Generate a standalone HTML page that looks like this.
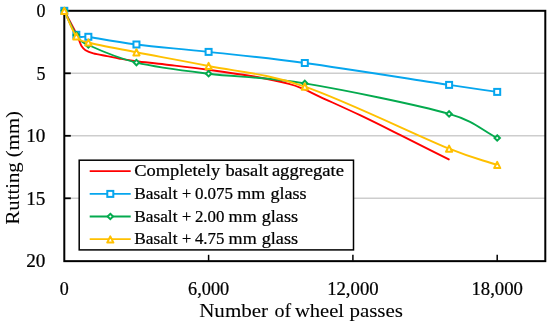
<!DOCTYPE html>
<html><head><meta charset="utf-8"><title>Rutting chart</title>
<style>
html,body{margin:0;padding:0;background:#fff;}
body{width:550px;height:324px;overflow:hidden;}
svg{display:block;}
.t,.l,.a{font-family:"Liberation Serif","DejaVu Serif",serif;fill:#000;stroke:#000;stroke-width:0.22px;}
.t{font-size:18px;}
.l{font-size:16.2px;}
.a{font-size:19.3px;stroke-width:0.08px;}
</style></head><body>
<svg width="550" height="324" viewBox="0 0 550 324">
<rect x="0" y="0" width="550" height="324" fill="#fff"/>
<line x1="64.3" x2="545.3" y1="73.30" y2="73.30" stroke="#cdcdcd" stroke-width="1.5"/>
<line x1="64.3" x2="545.3" y1="135.80" y2="135.80" stroke="#cdcdcd" stroke-width="1.5"/>
<line x1="64.3" x2="545.3" y1="198.30" y2="198.30" stroke="#cdcdcd" stroke-width="1.5"/>
<rect x="64.3" y="10.8" width="481.00" height="250.35" fill="none" stroke="#000" stroke-width="2"/>
<line x1="208.60" x2="208.60" y1="254.8" y2="260.8" stroke="#000" stroke-width="1.5"/>
<line x1="352.90" x2="352.90" y1="254.8" y2="260.8" stroke="#000" stroke-width="1.5"/>
<line x1="497.20" x2="497.20" y1="254.8" y2="260.8" stroke="#000" stroke-width="1.5"/>
<line x1="64.3" x2="70.8" y1="73.30" y2="73.30" stroke="#000" stroke-width="1.8"/>
<line x1="64.3" x2="70.8" y1="135.80" y2="135.80" stroke="#000" stroke-width="1.8"/>
<line x1="64.3" x2="70.8" y1="198.30" y2="198.30" stroke="#000" stroke-width="1.8"/>
<path d="M64.30,10.80 C68.20,18.20 73.55,28.13 76.00,33.00 C77.71,36.40 78.08,37.83 79.00,40.00 C79.92,42.17 80.42,44.30 81.50,46.00 C82.58,47.70 83.53,48.98 85.50,50.20 C87.47,51.42 89.72,52.32 93.30,53.30 C96.88,54.28 102.55,55.20 107.00,56.10 C111.45,57.00 115.17,57.85 120.00,58.70 C124.83,59.55 128.50,60.23 136.00,61.20 C143.50,62.17 153.00,63.08 165.00,64.50 C177.00,65.92 192.90,67.65 208.00,69.70 C223.10,71.75 242.12,74.45 255.60,76.80 C269.08,79.15 280.83,81.73 288.90,83.80 C296.67,85.79 298.82,87.03 304.00,89.20 C309.18,91.37 311.97,93.07 320.00,96.80 C329.33,101.13 346.67,108.85 360.00,115.20 C373.33,121.55 385.20,127.53 400.00,134.90 C414.80,142.27 432.53,151.23 448.80,159.40" fill="none" stroke="#ff0000" stroke-width="1.9" stroke-linecap="round"/>
<path d="M64.30,10.80 C68.31,18.80 72.32,30.47 76.32,34.80 C80.33,39.13 82.33,35.83 88.35,36.80 C98.37,38.42 116.41,41.98 136.45,44.50 C156.49,47.02 180.54,48.82 208.60,51.90 C236.66,54.98 264.72,57.50 304.80,63.00 C344.88,68.50 417.03,80.08 449.10,84.90 C473.13,88.51 481.17,89.57 497.20,91.90" fill="none" stroke="#06a6ee" stroke-width="1.9"/>
<rect x="61.30" y="7.80" width="6.0" height="6.0" fill="#fff" stroke="#06a6ee" stroke-width="2"/>
<rect x="73.32" y="31.80" width="6.0" height="6.0" fill="#fff" stroke="#06a6ee" stroke-width="2"/>
<rect x="85.35" y="33.80" width="6.0" height="6.0" fill="#fff" stroke="#06a6ee" stroke-width="2"/>
<rect x="133.45" y="41.50" width="6.0" height="6.0" fill="#fff" stroke="#06a6ee" stroke-width="2"/>
<rect x="205.60" y="48.90" width="6.0" height="6.0" fill="#fff" stroke="#06a6ee" stroke-width="2"/>
<rect x="301.80" y="60.00" width="6.0" height="6.0" fill="#fff" stroke="#06a6ee" stroke-width="2"/>
<rect x="446.10" y="81.90" width="6.0" height="6.0" fill="#fff" stroke="#06a6ee" stroke-width="2"/>
<rect x="494.20" y="88.90" width="6.0" height="6.0" fill="#fff" stroke="#06a6ee" stroke-width="2"/>
<path d="M64.30,10.80 C68.31,18.87 72.32,29.30 76.32,35.00 C80.33,40.70 81.24,41.74 88.35,45.00 C98.37,49.60 116.41,57.82 136.45,62.60 C156.49,67.38 180.54,70.23 208.60,73.70 C236.66,77.17 264.72,76.70 304.80,83.40 C344.88,90.10 417.03,104.80 449.10,113.90 C474.98,121.24 481.17,129.97 497.20,138.00" fill="none" stroke="#04aa4e" stroke-width="1.9"/>
<path d="M64.30,8.10 L67.00,10.80 L64.30,13.50 L61.60,10.80 Z" fill="#fff" stroke="#04aa4e" stroke-width="2"/>
<path d="M76.32,32.30 L79.02,35.00 L76.32,37.70 L73.62,35.00 Z" fill="#fff" stroke="#04aa4e" stroke-width="2"/>
<path d="M88.35,42.30 L91.05,45.00 L88.35,47.70 L85.65,45.00 Z" fill="#fff" stroke="#04aa4e" stroke-width="2"/>
<path d="M136.45,59.90 L139.15,62.60 L136.45,65.30 L133.75,62.60 Z" fill="#fff" stroke="#04aa4e" stroke-width="2"/>
<path d="M208.60,71.00 L211.30,73.70 L208.60,76.40 L205.90,73.70 Z" fill="#fff" stroke="#04aa4e" stroke-width="2"/>
<path d="M304.80,80.70 L307.50,83.40 L304.80,86.10 L302.10,83.40 Z" fill="#fff" stroke="#04aa4e" stroke-width="2"/>
<path d="M449.10,111.20 L451.80,113.90 L449.10,116.60 L446.40,113.90 Z" fill="#fff" stroke="#04aa4e" stroke-width="2"/>
<path d="M497.20,135.30 L499.90,138.00 L497.20,140.70 L494.50,138.00 Z" fill="#fff" stroke="#04aa4e" stroke-width="2"/>
<path d="M64.30,10.80 C68.31,19.30 72.32,31.02 76.32,36.30 C80.33,41.58 81.81,40.76 88.35,42.50 C98.37,45.17 116.41,48.38 136.45,52.30 C156.49,56.22 180.54,60.28 208.60,66.00 C236.66,71.72 264.72,72.82 304.80,86.60 C344.88,100.38 417.03,135.63 449.10,148.70 C472.62,158.28 481.17,159.57 497.20,165.00" fill="none" stroke="#ffc000" stroke-width="1.9"/>
<path d="M64.30,7.70 L67.40,13.90 L61.20,13.90 Z" fill="#fff" stroke="#ffc000" stroke-width="2" stroke-linejoin="round"/>
<path d="M76.32,33.20 L79.42,39.40 L73.22,39.40 Z" fill="#fff" stroke="#ffc000" stroke-width="2" stroke-linejoin="round"/>
<path d="M88.35,39.40 L91.45,45.60 L85.25,45.60 Z" fill="#fff" stroke="#ffc000" stroke-width="2" stroke-linejoin="round"/>
<path d="M136.45,49.20 L139.55,55.40 L133.35,55.40 Z" fill="#fff" stroke="#ffc000" stroke-width="2" stroke-linejoin="round"/>
<path d="M208.60,62.90 L211.70,69.10 L205.50,69.10 Z" fill="#fff" stroke="#ffc000" stroke-width="2" stroke-linejoin="round"/>
<path d="M304.80,83.50 L307.90,89.70 L301.70,89.70 Z" fill="#fff" stroke="#ffc000" stroke-width="2" stroke-linejoin="round"/>
<path d="M449.10,145.60 L452.20,151.80 L446.00,151.80 Z" fill="#fff" stroke="#ffc000" stroke-width="2" stroke-linejoin="round"/>
<path d="M497.20,161.90 L500.30,168.10 L494.10,168.10 Z" fill="#fff" stroke="#ffc000" stroke-width="2" stroke-linejoin="round"/>
<rect x="79.2" y="160.2" width="274.3" height="89.7" fill="#fff" stroke="#000" stroke-width="1.5"/>
<line x1="89.7" x2="130.7" y1="171.1" y2="171.1" stroke="#ff0000" stroke-width="1.9"/>
<text y="176.1" class="l"><tspan x="134.2" textLength="85.9" lengthAdjust="spacingAndGlyphs">Completely</tspan> <tspan x="225.4" textLength="43.0" lengthAdjust="spacingAndGlyphs">basalt</tspan> <tspan x="271.9" textLength="72.1" lengthAdjust="spacingAndGlyphs">aggregate</tspan></text>
<line x1="89.7" x2="130.7" y1="193.9" y2="193.9" stroke="#06a6ee" stroke-width="1.9"/>
<rect x="107.30" y="190.90" width="6.0" height="6.0" fill="#fff" stroke="#06a6ee" stroke-width="2"/>
<text y="198.9" class="l"><tspan x="134.2" textLength="43.3" lengthAdjust="spacingAndGlyphs">Basalt</tspan> <tspan x="182.1" textLength="9.2" lengthAdjust="spacingAndGlyphs">+</tspan> <tspan x="194.9" textLength="38.2" lengthAdjust="spacingAndGlyphs">0.075</tspan> <tspan x="237.3" textLength="27.9" lengthAdjust="spacingAndGlyphs">mm</tspan> <tspan x="270.4" textLength="36.2" lengthAdjust="spacingAndGlyphs">glass</tspan></text>
<line x1="89.7" x2="130.7" y1="216.5" y2="216.5" stroke="#04aa4e" stroke-width="1.9"/>
<path d="M110.30,213.80 L113.00,216.50 L110.30,219.20 L107.60,216.50 Z" fill="#fff" stroke="#04aa4e" stroke-width="2"/>
<text y="221.5" class="l"><tspan x="134.2" textLength="43.3" lengthAdjust="spacingAndGlyphs">Basalt</tspan> <tspan x="182.1" textLength="9.2" lengthAdjust="spacingAndGlyphs">+</tspan> <tspan x="194.9" textLength="29.4" lengthAdjust="spacingAndGlyphs">2.00</tspan> <tspan x="228.6" textLength="28.1" lengthAdjust="spacingAndGlyphs">mm</tspan> <tspan x="261.7" textLength="36.4" lengthAdjust="spacingAndGlyphs">glass</tspan></text>
<line x1="89.7" x2="130.7" y1="239.1" y2="239.1" stroke="#ffc000" stroke-width="1.9"/>
<path d="M110.30,236.40 L113.40,242.60 L107.20,242.60 Z" fill="#fff" stroke="#ffc000" stroke-width="2" stroke-linejoin="round"/>
<text y="244.1" class="l"><tspan x="134.2" textLength="43.3" lengthAdjust="spacingAndGlyphs">Basalt</tspan> <tspan x="182.1" textLength="9.2" lengthAdjust="spacingAndGlyphs">+</tspan> <tspan x="194.9" textLength="29.4" lengthAdjust="spacingAndGlyphs">4.75</tspan> <tspan x="228.6" textLength="28.1" lengthAdjust="spacingAndGlyphs">mm</tspan> <tspan x="261.7" textLength="36.4" lengthAdjust="spacingAndGlyphs">glass</tspan></text>
<text x="45.4" y="17.00" text-anchor="end" class="t">0</text>
<text x="45.4" y="79.50" text-anchor="end" class="t">5</text>
<text x="45.4" y="142.00" text-anchor="end" textLength="19.2" lengthAdjust="spacingAndGlyphs" class="t">10</text>
<text x="45.4" y="204.50" text-anchor="end" textLength="19.2" lengthAdjust="spacingAndGlyphs" class="t">15</text>
<text x="45.4" y="267.00" text-anchor="end" textLength="19.2" lengthAdjust="spacingAndGlyphs" class="t">20</text>
<text x="64.30" y="294.6" text-anchor="middle" class="t">0</text>
<text x="208.60" y="294.6" text-anchor="middle" textLength="41.1" lengthAdjust="spacingAndGlyphs" class="t">6,000</text>
<text x="352.90" y="294.6" text-anchor="middle" textLength="51.5" lengthAdjust="spacingAndGlyphs" class="t">12,000</text>
<text x="497.20" y="294.6" text-anchor="middle" textLength="51.5" lengthAdjust="spacingAndGlyphs" class="t">18,000</text>
<text y="317.2" class="a"><tspan x="199.2" textLength="68.9" lengthAdjust="spacingAndGlyphs">Number</tspan> <tspan x="274.5" textLength="16.7" lengthAdjust="spacingAndGlyphs">of</tspan> <tspan x="294.9" textLength="49.2" lengthAdjust="spacingAndGlyphs">wheel</tspan> <tspan x="349.4" textLength="53.6" lengthAdjust="spacingAndGlyphs">passes</tspan></text>
<text transform="translate(19.4,167.8) rotate(-90)" text-anchor="middle" textLength="113.5" lengthAdjust="spacingAndGlyphs" class="a">Rutting (mm)</text>
</svg>
</body></html>
